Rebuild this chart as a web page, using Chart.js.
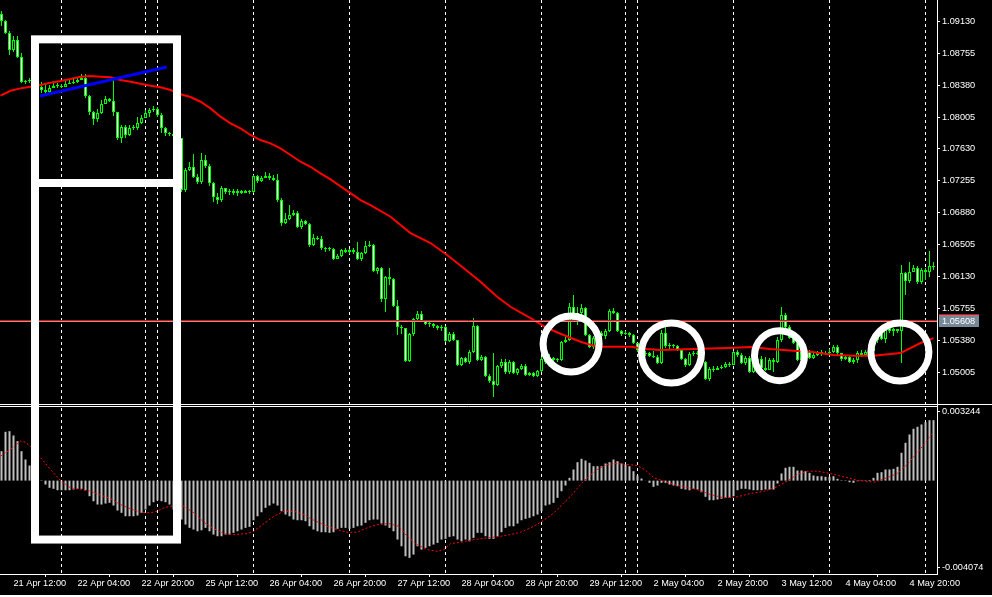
<!DOCTYPE html>
<html>
<head>
<meta charset="utf-8">
<script src="https://cdn.jsdelivr.net/npm/chart.js@4.4.0/dist/chart.umd.min.js"></script>
<style>
  html, body { margin: 0; padding: 0; background: #000; }
  #wrap { width: 992px; height: 597px; }
</style>
</head>
<body>
<div id="wrap"><canvas id="chart" width="992" height="597"></canvas></div>
<script>
// EURUSD H1, 21 Apr - 5 May, one entry per bar
const opens = [
  1.09215,1.09133,1.08992,1.08792,1.08910,1.08710,1.08416,1.08428,1.08440,1.08393,
  1.08358,1.08322,1.08299,1.08346,1.08369,1.08369,1.08358,1.08393,1.08405,1.08416,
  1.08440,1.08463,1.08252,1.08064,1.07982,1.08052,1.08158,1.08217,1.08193,1.08064,
  1.07758,1.07888,1.07794,1.07876,1.07876,1.07935,1.07993,1.08052,1.08087,1.08099,
  1.08029,1.07876,1.07817,1.07805,1.07782,1.07758,1.07147,1.07382,1.07418,1.07300,
  1.07241,1.07500,1.07429,1.07230,1.07065,1.07030,1.07171,1.07124,1.07136,1.07112,
  1.07136,1.07112,1.07136,1.07124,1.07312,1.07253,1.07288,1.07312,1.07288,1.07265,
  1.07030,1.06760,1.06807,1.06854,1.06877,1.06713,1.06783,1.06748,1.06501,1.06583,
  1.06572,1.06466,1.06454,1.06454,1.06337,1.06372,1.06442,1.06419,1.06442,1.06419,
  1.06337,1.06407,1.06489,1.06501,1.06196,1.06231,1.05867,1.06125,1.06102,1.05784,
  1.05538,1.05526,1.05138,1.05455,1.05632,1.05690,1.05608,1.05573,1.05573,1.05549,
  1.05526,1.05538,1.05373,1.05455,1.05385,1.05091,1.05173,1.05126,1.05244,1.05549,
  1.05150,1.05185,1.04962,1.04903,1.04856,1.05079,1.05126,1.05009,1.05126,1.04997,
  1.05044,1.05079,1.04974,1.04997,1.04962,1.05021,1.05162,1.05126,1.05173,1.05150,
  1.05150,1.05361,1.05385,1.05773,1.05620,1.05702,1.05761,1.05444,1.05303,1.05408,
  1.05467,1.05432,1.05491,1.05726,1.05702,1.05491,1.05455,1.05467,1.05444,1.05350,
  1.05267,1.05220,1.05232,1.05197,1.05185,1.05115,1.05467,1.05314,1.05326,1.05314,
  1.05267,1.05162,1.05091,1.05220,1.05220,1.05232,1.05126,1.04927,1.05044,1.05032,
  1.05056,1.05068,1.05103,1.05091,1.05244,1.05209,1.05115,1.05173,1.05009,1.05115,
  1.05162,1.05056,1.05032,1.05150,1.05126,1.05385,1.05679,1.05538,1.05408,1.05350,
  1.05150,1.05279,1.05244,1.05173,1.05209,1.05244,1.05220,1.05232,1.05244,1.05303,
  1.05232,1.05162,1.05185,1.05126,1.05150,1.05232,1.05209,1.05244,1.05256,1.05385,
  1.05467,1.05397,1.05526,1.05491,1.05514,1.05491,1.06172,1.06078,1.06184,1.06231,
  1.06066,1.06207,1.06184,1.06254
];
const closes = [
  1.09133,1.08992,1.08792,1.08910,1.08710,1.08416,1.08428,1.08440,1.08393,1.08358,
  1.08322,1.08299,1.08346,1.08369,1.08369,1.08358,1.08393,1.08405,1.08416,1.08440,
  1.08463,1.08252,1.08064,1.07982,1.08052,1.08158,1.08217,1.08193,1.08064,1.07758,
  1.07888,1.07794,1.07876,1.07876,1.07935,1.07993,1.08052,1.08087,1.08099,1.08029,
  1.07876,1.07817,1.07805,1.07782,1.07758,1.07147,1.07382,1.07418,1.07300,1.07241,
  1.07500,1.07429,1.07230,1.07065,1.07030,1.07171,1.07124,1.07136,1.07112,1.07136,
  1.07112,1.07136,1.07124,1.07312,1.07253,1.07288,1.07312,1.07288,1.07265,1.07030,
  1.06760,1.06807,1.06854,1.06877,1.06713,1.06783,1.06748,1.06501,1.06583,1.06572,
  1.06466,1.06454,1.06454,1.06337,1.06372,1.06442,1.06419,1.06442,1.06419,1.06337,
  1.06407,1.06489,1.06501,1.06196,1.06231,1.05867,1.06125,1.06102,1.05784,1.05538,
  1.05526,1.05138,1.05455,1.05632,1.05690,1.05608,1.05573,1.05573,1.05549,1.05526,
  1.05538,1.05373,1.05455,1.05385,1.05091,1.05173,1.05126,1.05244,1.05549,1.05150,
  1.05185,1.04962,1.04903,1.04856,1.05079,1.05126,1.05009,1.05126,1.04997,1.05044,
  1.05079,1.04974,1.04997,1.04962,1.05021,1.05162,1.05126,1.05173,1.05150,1.05150,
  1.05361,1.05385,1.05773,1.05620,1.05702,1.05761,1.05444,1.05303,1.05408,1.05467,
  1.05432,1.05491,1.05726,1.05702,1.05491,1.05455,1.05467,1.05444,1.05350,1.05267,
  1.05220,1.05232,1.05197,1.05185,1.05115,1.05467,1.05314,1.05326,1.05314,1.05267,
  1.05162,1.05091,1.05220,1.05220,1.05232,1.05126,1.04927,1.05044,1.05032,1.05056,
  1.05068,1.05103,1.05091,1.05244,1.05209,1.05115,1.05173,1.05009,1.05115,1.05162,
  1.05056,1.05032,1.05150,1.05126,1.05385,1.05679,1.05538,1.05408,1.05350,1.05150,
  1.05279,1.05244,1.05173,1.05209,1.05244,1.05220,1.05232,1.05244,1.05303,1.05232,
  1.05162,1.05185,1.05126,1.05150,1.05232,1.05209,1.05244,1.05256,1.05385,1.05467,
  1.05397,1.05526,1.05491,1.05514,1.05491,1.06172,1.06078,1.06184,1.06231,1.06066,
  1.06207,1.06184,1.06254,1.06243
];
const highs = [
  1.09251,1.09145,1.09016,1.08957,1.08957,1.08757,1.08440,1.08463,1.08452,1.08405,
  1.08416,1.08393,1.08381,1.08405,1.08405,1.08393,1.08428,1.08440,1.08452,1.08475,
  1.08510,1.08510,1.08264,1.08076,1.08099,1.08205,1.08252,1.08228,1.08440,1.08064,
  1.07911,1.07911,1.07911,1.07911,1.08005,1.08029,1.08087,1.08111,1.08134,1.08123,
  1.08052,1.07888,1.07829,1.07817,1.07794,1.07758,1.07406,1.07476,1.07570,1.07335,
  1.07582,1.07559,1.07453,1.07241,1.07112,1.07194,1.07171,1.07159,1.07159,1.07159,
  1.07147,1.07147,1.07147,1.07324,1.07324,1.07312,1.07359,1.07347,1.07324,1.07335,
  1.07053,1.06877,1.06971,1.06912,1.06901,1.06807,1.06795,1.06760,1.06630,1.06607,
  1.06607,1.06478,1.06478,1.06466,1.06395,1.06454,1.06466,1.06454,1.06466,1.06536,
  1.06419,1.06548,1.06548,1.06513,1.06243,1.06243,1.06137,1.06231,1.06113,1.05855,
  1.05561,1.05479,1.05467,1.05643,1.05726,1.05726,1.05620,1.05596,1.05585,1.05561,
  1.05561,1.05549,1.05479,1.05479,1.05385,1.05185,1.05185,1.05267,1.05643,1.05561,
  1.05209,1.05197,1.04985,1.05232,1.05091,1.05162,1.05162,1.05150,1.05138,1.05056,
  1.05103,1.05103,1.05009,1.05009,1.05032,1.05185,1.05209,1.05220,1.05185,1.05173,
  1.05373,1.05420,1.05820,1.05914,1.05773,1.05808,1.05773,1.05455,1.05432,1.05502,
  1.05491,1.05514,1.05749,1.05761,1.05714,1.05502,1.05491,1.05479,1.05455,1.05338,
  1.05279,1.05256,1.05244,1.05256,1.05209,1.05502,1.05620,1.05350,1.05338,1.05326,
  1.05279,1.05173,1.05244,1.05256,1.05256,1.05244,1.05138,1.05068,1.05079,1.05079,
  1.05091,1.05126,1.05126,1.05256,1.05267,1.05232,1.05197,1.05197,1.05150,1.05197,
  1.05197,1.05185,1.05173,1.05173,1.05420,1.05773,1.05702,1.05561,1.05432,1.05361,
  1.05303,1.05291,1.05267,1.05232,1.05256,1.05267,1.05256,1.05279,1.05326,1.05326,
  1.05209,1.05209,1.05197,1.05173,1.05256,1.05267,1.05267,1.05291,1.05408,1.05502,
  1.05479,1.05549,1.05538,1.05526,1.05514,1.06266,1.06184,1.06301,1.06266,1.06254,
  1.06231,1.06231,1.06431,1.06301
];
const lows = [
  1.09074,1.08980,1.08734,1.08769,1.08698,1.08405,1.08393,1.08405,1.08369,1.08334,
  1.08287,1.08275,1.08287,1.08346,1.08346,1.08346,1.08369,1.08393,1.08393,1.08405,
  1.08440,1.08228,1.08029,1.07911,1.07946,1.08040,1.08158,1.08181,1.08017,1.07735,
  1.07700,1.07758,1.07782,1.07852,1.07852,1.07923,1.08017,1.08005,1.08064,1.08005,
  1.07817,1.07782,1.07782,1.07735,1.07676,1.07124,1.07124,1.07371,1.07288,1.07218,
  1.07218,1.07406,1.07194,1.07006,1.06983,1.07006,1.07100,1.07089,1.07089,1.07077,
  1.07100,1.07112,1.07100,1.07112,1.07230,1.07241,1.07288,1.07265,1.07253,1.07006,
  1.06724,1.06748,1.06795,1.06842,1.06701,1.06689,1.06736,1.06478,1.06489,1.06560,
  1.06442,1.06419,1.06431,1.06325,1.06348,1.06360,1.06407,1.06395,1.06395,1.06325,
  1.06313,1.06395,1.06478,1.06184,1.06160,1.05831,1.05714,1.06031,1.05773,1.05444,
  1.05455,1.05126,1.05126,1.05432,1.05620,1.05596,1.05561,1.05538,1.05526,1.05502,
  1.05491,1.05361,1.05361,1.05373,1.05079,1.05079,1.05115,1.05103,1.05232,1.05138,
  1.05138,1.04950,1.04880,1.04715,1.04844,1.05056,1.04985,1.04985,1.04985,1.04974,
  1.05032,1.04962,1.04962,1.04950,1.04950,1.05009,1.05103,1.05115,1.05126,1.05126,
  1.05138,1.05350,1.05373,1.05596,1.05561,1.05596,1.05432,1.05291,1.05279,1.05385,
  1.05408,1.05397,1.05479,1.05690,1.05479,1.05432,1.05444,1.05420,1.05338,1.05244,
  1.05197,1.05197,1.05185,1.05173,1.05103,1.05103,1.05291,1.05279,1.05291,1.05256,
  1.05150,1.05068,1.05079,1.05197,1.05209,1.05091,1.04915,1.04903,1.05009,1.05032,
  1.05044,1.05056,1.05068,1.05091,1.05185,1.05103,1.05091,1.04997,1.04997,1.05009,
  1.05032,1.05021,1.05032,1.05009,1.05115,1.05361,1.05526,1.05397,1.05338,1.05138,
  1.05138,1.05232,1.05162,1.05162,1.05197,1.05197,1.05209,1.05209,1.05232,1.05209,
  1.05138,1.05150,1.05115,1.05103,1.05115,1.05185,1.05197,1.05220,1.05244,1.05350,
  1.05385,1.05350,1.05467,1.05432,1.05467,1.05115,1.05914,1.06055,1.06196,1.06043,
  1.06043,1.06090,1.06125,1.06207
];

// moving average (red), read at bar positions
const maIdx = [-0.25,2.25,4.75,7.25,9.75,12.25,14.75,17.25,19.75,22.25,24.75,27.25,29.75,32.25,34.75,37.25,39.75,42.25,44.75,47.25,
  49.75,52.25,54.75,57.25,59.75,62.25,64.75,67.25,69.75,72.25,74.75,77.25,79.75,82.25,89.75,92.25,97.25,102.25,107.25,111.4,
  115.5,119.75,123.9,127.25,132.25,136.4,140.5,144.75,148.9,153,157.25,161.4,164.75,173,181.4,187.25,192.25,198,202.25,208,
  213,218,224.75,229.75,233];
const maVal = [1.08256,1.08314,1.08342,1.08361,1.08381,1.08408,1.08428,1.08452,1.08479,1.08487,1.08479,1.08472,1.08440,1.08420,1.08397,1.08373,1.08354,1.08322,1.08272,1.08240,
  1.08185,1.08107,1.08009,1.07931,1.07872,1.07794,1.07735,1.07696,1.07637,1.07559,1.07480,1.07421,1.07344,1.07273,1.07030,1.06971,1.06834,1.06642,1.06525,1.06384,
  1.06231,1.06070,1.05894,1.05776,1.05643,1.05526,1.05444,1.05365,1.05306,1.05306,1.05306,1.05279,1.05267,1.05279,1.05291,1.05303,1.05279,1.05259,1.05247,1.05209,
  1.05201,1.05201,1.05232,1.05350,1.05408];

// blue trend line
const trendIdx = [9.625, 41.3];
const trendVal = [1.08252, 1.08593];

// MACD histogram and signal
const macdHist = [
  0.001374,0.002280,0.002308,0.002108,0.001841,0.001374,0.000986,0.000706,0.000206,0.000051,
  -0.000019,-0.000182,-0.000336,-0.000383,-0.000449,-0.000449,-0.000449,-0.000449,-0.000416,-0.000383,
  -0.000383,-0.000449,-0.000729,-0.000963,-0.001117,-0.001117,-0.001070,-0.001037,-0.001164,-0.001397,
  -0.001505,-0.001664,-0.001664,-0.001664,-0.001631,-0.001505,-0.001350,-0.001164,-0.001009,-0.000916,
  -0.000963,-0.001009,-0.001117,-0.001350,-0.001664,-0.001818,-0.002051,-0.002206,-0.002285,-0.002365,
  -0.002318,-0.002206,-0.002365,-0.002519,-0.002598,-0.002598,-0.002519,-0.002519,-0.002439,-0.002365,
  -0.002285,-0.002206,-0.002159,-0.001851,-0.001664,-0.001477,-0.001271,-0.001164,-0.001070,-0.001164,
  -0.001430,-0.001584,-0.001664,-0.001818,-0.001851,-0.001851,-0.001897,-0.002131,-0.002285,-0.002365,
  -0.002411,-0.002411,-0.002439,-0.002411,-0.002252,-0.002206,-0.002206,-0.002252,-0.002206,-0.002131,
  -0.002098,-0.001972,-0.001851,-0.001818,-0.001818,-0.002005,-0.002098,-0.002206,-0.002365,-0.002752,
  -0.003065,-0.003533,-0.003608,-0.003453,-0.003065,-0.003220,-0.003140,-0.003065,-0.002986,-0.002907,
  -0.002752,-0.002720,-0.002626,-0.002598,-0.002752,-0.002832,-0.002752,-0.002832,-0.002673,-0.002439,
  -0.002439,-0.002598,-0.002720,-0.002720,-0.002598,-0.002411,-0.002206,-0.002131,-0.002131,-0.002005,
  -0.001851,-0.001785,-0.001738,-0.001664,-0.001584,-0.001430,-0.001164,-0.001117,-0.001037,-0.000804,
  -0.000495,-0.000229,0.000131,0.000519,0.000860,0.001019,0.000939,0.000832,0.000673,0.000673,
  0.000673,0.000799,0.000860,0.000986,0.000907,0.000799,0.000752,0.000673,0.000439,0.000238,
  0.000098,0.000005,-0.000103,-0.000290,-0.000229,-0.000103,-0.000103,-0.000182,-0.000229,-0.000262,
  -0.000383,-0.000416,-0.000449,-0.000383,-0.000416,-0.000542,-0.000757,-0.000916,-0.000916,-0.000883,
  -0.000850,-0.000804,-0.000804,-0.000729,-0.000449,-0.000383,-0.000383,-0.000416,-0.000449,-0.000449,
  -0.000449,-0.000416,-0.000416,-0.000416,-0.000136,0.000332,0.000598,0.000645,0.000645,0.000472,
  0.000472,0.000439,0.000364,0.000238,0.000206,0.000206,0.000178,0.000178,0.000206,0.000084,
  0.000019,0.000019,-0.000075,-0.000103,-0.000028,-0.000019,0.000019,0.000028,0.000131,0.000364,
  0.000393,0.000519,0.000519,0.000551,0.000645,0.001299,0.001766,0.002154,0.002421,0.002514,
  0.002622,0.002729,0.002823,0.002823
];
const sigIdx = [-0.25,2.25,4.75,6,7.25,9.75,12.25,14.75,17.25,19.75,22.25,24.75,27.25,29.75,32.25,34.75,37.25,38.9,40.6,43.1,
  45.6,48.1,50.6,53.1,55.6,58.1,61.4,63.1,65.6,68.1,70.6,73.1,75.6,78.1,81.4,83.9,86.4,88.9,91.4,93.9,
  96.8,99.3,101.4,103.9,106.4,108.9,110.6,112.25,114.75,118.1,121.4,124.75,127.25,129.75,133.1,135.6,138.1,140.6,142.7,144.75,
  146.4,148.9,151.4,153.9,156.4,158.9,161,163.1,165.6,168.1,170.6,173.9,177.25,180.6,183.9,187.25,190.6,193.9,196.4,198.9,
  201.4,203.9,207.25,210.6,213.9,218.1,221.4,223.9,226.4,228.9,231,232.7];
const sigVal = [0.001140,0.001453,0.001841,0.001794,0.001594,0.001079,0.000519,0.000005,-0.000336,-0.000416,-0.000495,-0.000682,-0.000836,-0.001117,-0.001318,-0.001477,-0.001505,-0.001430,-0.001271,-0.001164,
  -0.001196,-0.001505,-0.001944,-0.002252,-0.002472,-0.002519,-0.002472,-0.002365,-0.002005,-0.001664,-0.001430,-0.001430,-0.001584,-0.001851,-0.002131,-0.002285,-0.002411,-0.002411,-0.002206,-0.002051,
  -0.002005,-0.002131,-0.002598,-0.002986,-0.003220,-0.003299,-0.003220,-0.002939,-0.002879,-0.002752,-0.002673,-0.002598,-0.002519,-0.002411,-0.002131,-0.001851,-0.001505,-0.001037,-0.000650,-0.000182,
  0.000131,0.000519,0.000752,0.000799,0.000752,0.000706,0.000486,0.000131,-0.000028,-0.000182,-0.000290,-0.000416,-0.000650,-0.000804,-0.000757,-0.000603,-0.000495,-0.000290,-0.000028,0.000285,
  0.000439,0.000439,0.000332,0.000178,0.000019,-0.000075,0.000131,0.000332,0.000752,0.001299,0.001766,0.002234];

// axes
const tickIdx = [3,19,35,51,67,83,99,115,131,147,163,179,195,211,227];
const tickLabels = ['21 Apr 12:00','22 Apr 04:00','22 Apr 20:00','25 Apr 12:00','26 Apr 04:00','26 Apr 20:00','27 Apr 12:00',
  '28 Apr 04:00','28 Apr 20:00','29 Apr 12:00','2 May 04:00','2 May 20:00','3 May 12:00','4 May 04:00','4 May 20:00'];
const separatorIdx = [15,36,39,63,87,111,135,156,159,183,207,231];
const priceTicks = [1.09130,1.08755,1.08380,1.08005,1.07630,1.07255,1.06880,1.06505,1.06130,1.05755,1.05380,1.05005];
const macdTicks = [0.003244,-0.004074];
const bidPrice = 1.05608;
const levelPrice = 1.05620;

// white drawings on the chart (data units)
const boxLeft = 8.375, boxRight = 43.875, boxTop = 1.08918, boxSplit = 1.07230, boxBottomMacd = -0.002752;
const ringIdx = [142.4, 167.5, 194.5, 224.6];
const ringPrice = [1.05338, 1.05232, 1.05201, 1.05244];
const ringRadius = [28, 30, 25, 29];

const LIME = '#00ff00';
const FONT = { family: 'Liberation Sans', size: 9.2 };

const bodies = closes.map((c, i) => ({ x: i, y: [opens[i], c] }));
const wicks = closes.map((c, i) => ({ x: i, y: [Math.min(lows[i], opens[i], c), Math.max(highs[i], opens[i], c)] }));
const bodyFill = closes.map((c, i) => c < opens[i] ? '#ffffff' : '#000000');

const overlay = {
  id: 'overlay',
  beforeDraw(chart) {
    const ctx = chart.ctx;
    ctx.save();
    ctx.fillStyle = '#000';
    ctx.fillRect(0, 0, chart.width, chart.height);
    ctx.restore();
  },
  beforeDatasetsDraw(chart) {
    const { ctx, chartArea, scales } = chart;
    ctx.save();
    ctx.strokeStyle = '#ffffff';
    ctx.lineWidth = 1;
    ctx.setLineDash([3, 3]);
    separatorIdx.forEach(i => {
      const x = Math.floor(scales.x.getPixelForValue(i)) + 0.5;
      ctx.beginPath();
      ctx.moveTo(x, chartArea.top);
      ctx.lineTo(x, chartArea.bottom);
      ctx.stroke();
    });
    ctx.restore();
  },
  afterDatasetsDraw(chart) {
    const { ctx, chartArea, scales } = chart;
    const xs = scales.x, ys = scales.y, ms = scales.y2;
    ctx.save();

    // price levels
    const yBid = Math.round(ys.getPixelForValue(bidPrice)) + 0.5;
    const yLvl = Math.round(ys.getPixelForValue(levelPrice)) + 0.5;
    ctx.lineWidth = 1;
    ctx.strokeStyle = '#a0a0a0';
    ctx.beginPath(); ctx.moveTo(0, yBid); ctx.lineTo(chartArea.right, yBid); ctx.stroke();
    ctx.strokeStyle = '#ff0000';
    ctx.beginPath(); ctx.moveTo(0, yLvl); ctx.lineTo(chartArea.right, yLvl); ctx.stroke();

    // rectangles
    ctx.strokeStyle = '#ffffff';
    ctx.lineWidth = 8;
    ctx.lineJoin = 'miter';
    const l = xs.getPixelForValue(boxLeft), r = xs.getPixelForValue(boxRight);
    const t = ys.getPixelForValue(boxTop), m = ys.getPixelForValue(boxSplit);
    const b = ms.getPixelForValue(boxBottomMacd);
    ctx.strokeRect(l, t, r - l, b - t);
    ctx.beginPath(); ctx.moveTo(l - 4, m); ctx.lineTo(r + 4, m); ctx.stroke();

    // rings
    ctx.lineWidth = 7;
    ringIdx.forEach((i, k) => {
      ctx.beginPath();
      ctx.arc(xs.getPixelForValue(i), ys.getPixelForValue(ringPrice[k]), ringRadius[k], 0, Math.PI * 2);
      ctx.stroke();
    });

    // panel separators
    ctx.lineWidth = 1;
    const sep = Math.round(ys.bottom);
    ctx.beginPath(); ctx.moveTo(0, sep - 0.5); ctx.lineTo(chart.width, sep - 0.5); ctx.stroke();
    ctx.beginPath(); ctx.moveTo(0, sep + 1.5); ctx.lineTo(chartArea.right, sep + 1.5); ctx.stroke();
    ctx.fillStyle = '#ffffff';
    ctx.fillRect(0, chart.height - 2, chart.width, 2);

    // bid label on the price axis
    const bx = chartArea.right + 2, by = Math.round(ys.getPixelForValue(bidPrice));
    ctx.fillStyle = '#778899';
    ctx.fillRect(bx, by - 6, 40, 12);
    ctx.strokeStyle = '#ff0000';
    ctx.beginPath(); ctx.moveTo(bx, by - 6.5); ctx.lineTo(bx + 40, by - 6.5); ctx.stroke();
    ctx.fillStyle = '#ffffff';
    ctx.font = FONT.size + 'px "' + FONT.family + '"';
    ctx.textBaseline = 'middle';
    ctx.textAlign = 'left';
    ctx.fillText(bidPrice.toFixed(5), chartArea.right + 5, by + 0.5);
    ctx.restore();
  }
};

function zeroPad(s) { s.paddingTop = 0; s.paddingBottom = 0; s.paddingLeft = 0; s.paddingRight = 0; }

new Chart(document.getElementById('chart'), {
  type: 'bar',
  data: {
    datasets: [
      { type: 'bar', data: macdHist.map((v, i) => ({ x: i, y: v })), yAxisID: 'y2', backgroundColor: '#c0c0c0',
        borderWidth: 0, barThickness: 2, grouped: false, inflateAmount: 0, order: 9 },
      { type: 'line', data: sigIdx.map((x, i) => ({ x, y: sigVal[i] })), yAxisID: 'y2', borderColor: '#ff0000',
        borderWidth: 1, borderDash: [2, 2], pointRadius: 0, tension: 0, order: 8 },
      { type: 'bar', data: wicks, yAxisID: 'y', backgroundColor: LIME, borderWidth: 0, barThickness: 1,
        grouped: false, inflateAmount: 0, order: 7 },
      { type: 'bar', data: bodies, yAxisID: 'y', backgroundColor: bodyFill, borderColor: LIME, borderWidth: 1,
        borderSkipped: false, barThickness: 3, minBarLength: 1, grouped: false, inflateAmount: 0, order: 6 },
      { type: 'line', data: maIdx.map((x, i) => ({ x, y: maVal[i] })), yAxisID: 'y', borderColor: '#ff0000',
        borderWidth: 2, pointRadius: 0, tension: 0, order: 5 },
      { type: 'line', data: trendIdx.map((x, i) => ({ x, y: trendVal[i] })), yAxisID: 'y', borderColor: '#0000ff',
        borderWidth: 3, pointRadius: 0, order: 4 }
    ]
  },
  options: {
    responsive: false,
    animation: false,
    events: [],
    layout: { padding: 0, autoPadding: false },
    plugins: { legend: { display: false }, tooltip: { enabled: false } },
    scales: {
      x: {
        type: 'linear', position: 'bottom', min: -0.375, max: 233.875, offset: false, bounds: 'data',
        grid: { display: true, drawOnChartArea: false, tickLength: 3, color: '#ffffff' },
        border: { display: true, color: '#ffffff' },
        ticks: { color: '#ffffff', font: FONT, autoSkip: false, maxRotation: 0, align: 'start', padding: 1,
          callback: (v, i) => tickLabels[i] },
        afterBuildTicks: s => { s.ticks = tickIdx.map(v => ({ value: v })); },
        afterFit: s => { s.height = 23; zeroPad(s); }
      },
      y: {
        type: 'linear', position: 'right', stack: 'panes', stackWeight: 405,
        min: 1.046215, max: 1.093803, beginAtZero: false, bounds: 'data',
        grid: { display: true, drawOnChartArea: false, tickLength: 3, color: '#ffffff' },
        border: { display: true, color: '#ffffff' },
        ticks: { color: '#ffffff', font: FONT, autoSkip: false, padding: 2, callback: v => v.toFixed(5) },
        afterBuildTicks: s => { s.ticks = priceTicks.map(v => ({ value: v })); },
        afterFit: s => { s.width = 55; zeroPad(s); }
      },
      y2: {
        type: 'linear', position: 'right', stack: 'panes', stackWeight: 169,
        min: -0.00436, max: 0.00353, beginAtZero: false, bounds: 'data',
        grid: { display: true, drawOnChartArea: false, tickLength: 3, color: '#ffffff' },
        border: { display: true, color: '#ffffff' },
        ticks: { color: '#ffffff', font: FONT, autoSkip: false, padding: 2, callback: v => v.toFixed(6) },
        afterBuildTicks: s => { s.ticks = macdTicks.map(v => ({ value: v })); },
        afterFit: s => { s.width = 55; zeroPad(s); }
      }
    }
  },
  plugins: [overlay]
});
</script>
</body>
</html>
